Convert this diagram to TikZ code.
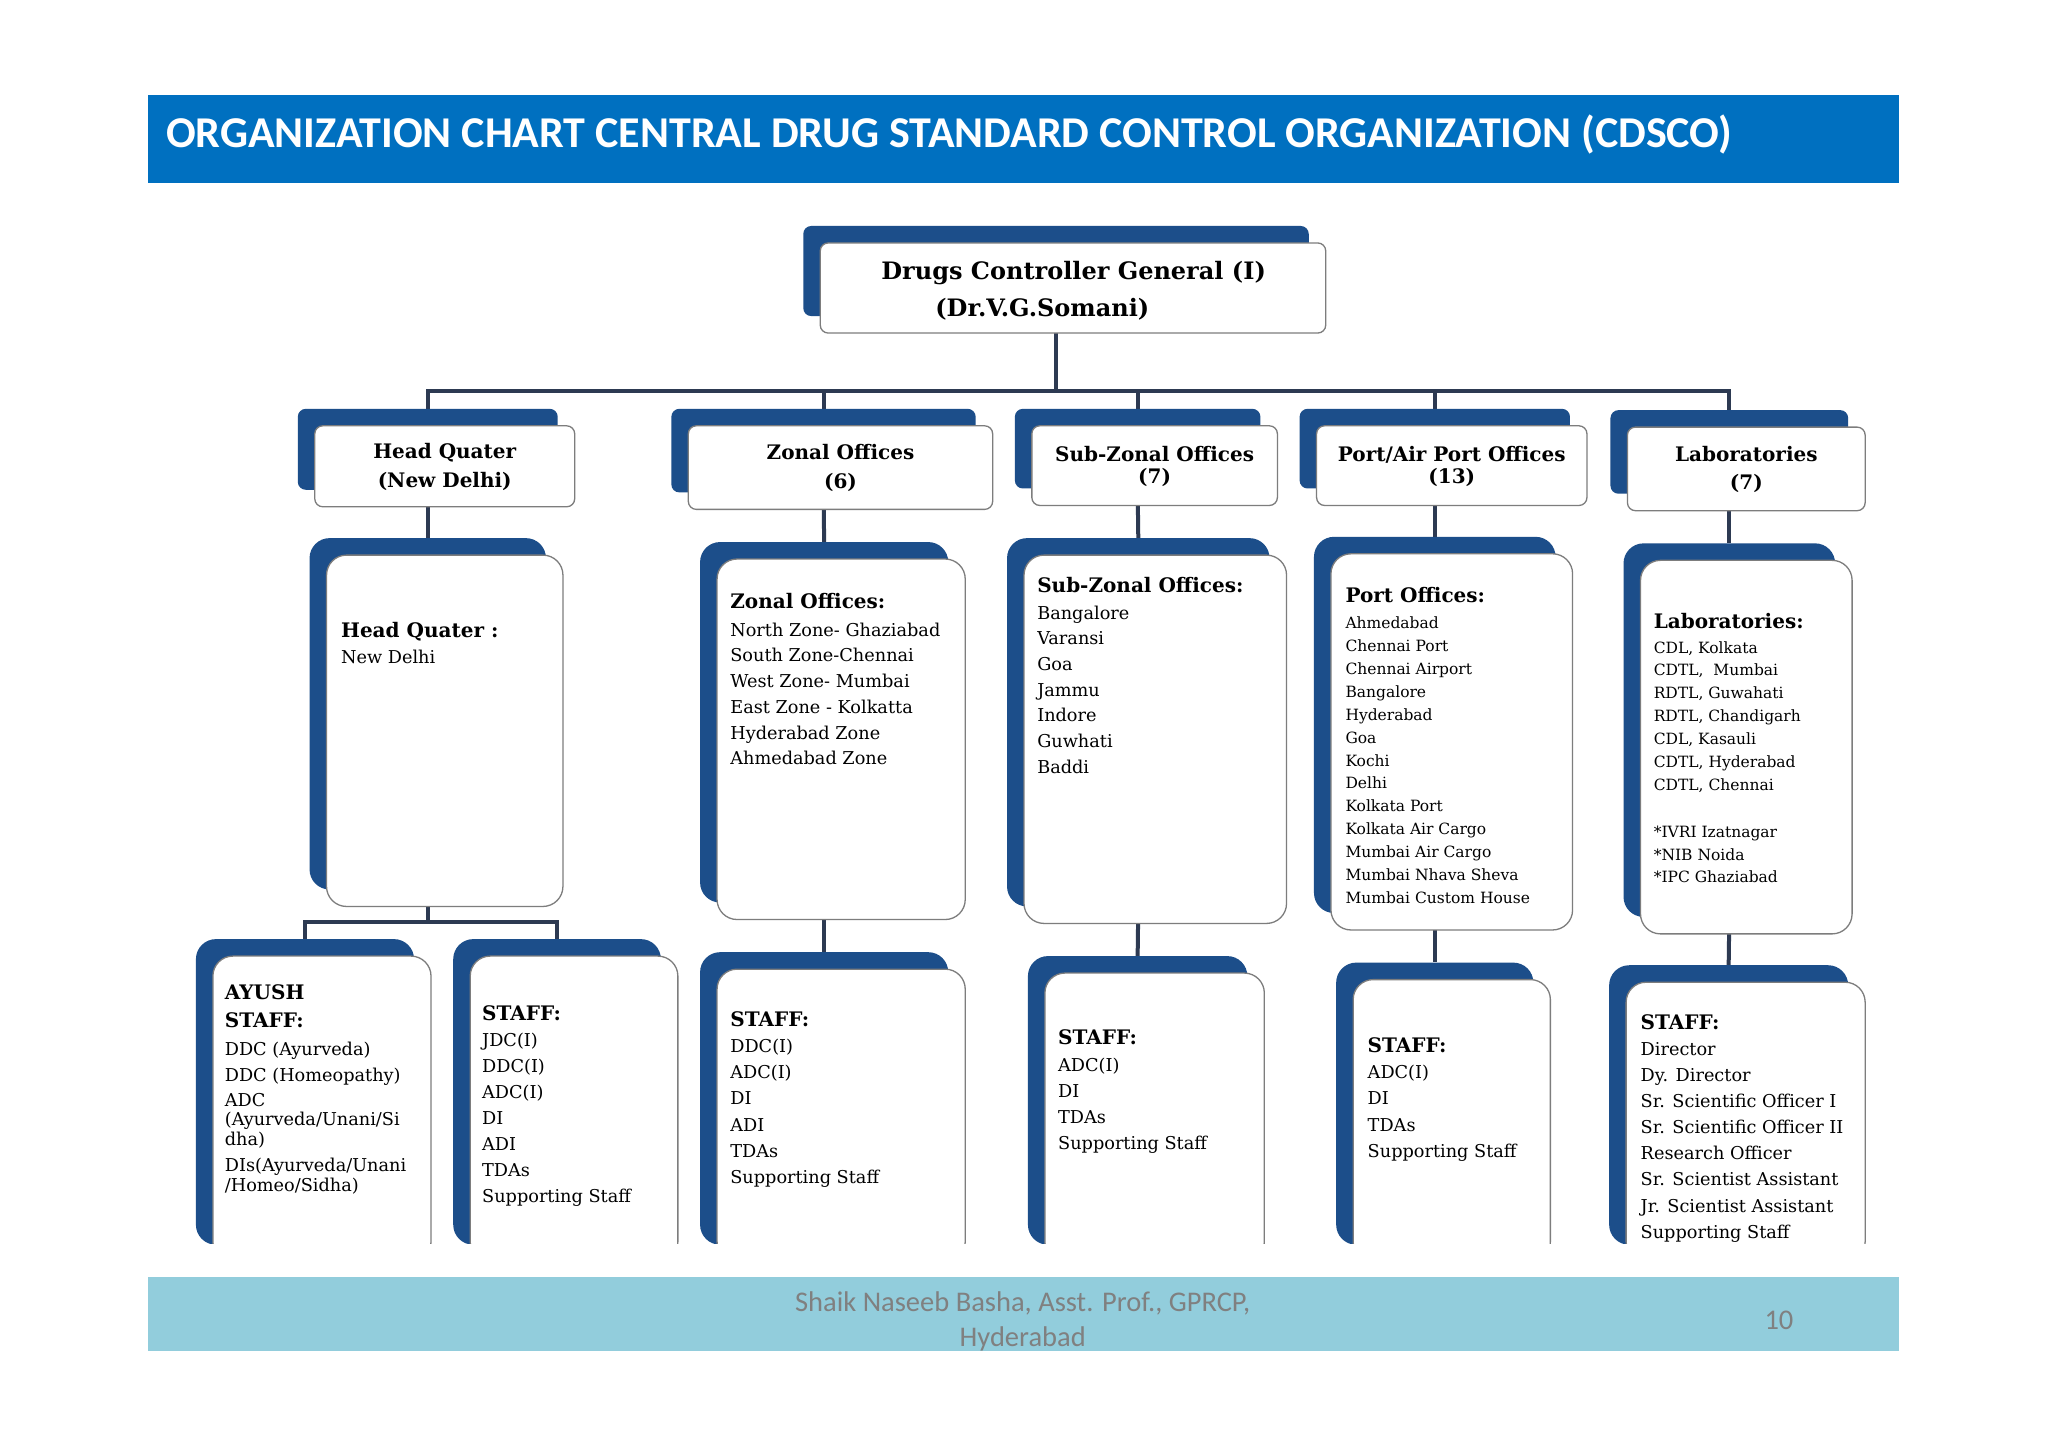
\documentclass[tikz,border=0pt]{standalone}
\usepackage{fontspec}
\setmainfont{DejaVu Serif}
\newfontfamily\titlefont{Carlito}
\usetikzlibrary{fit}
\pgfdeclarelayer{bglayer}
\pgfdeclarelayer{connlayer}
\pgfsetlayers{bglayer,connlayer,main}
\definecolor{titleblue}{RGB}{0,112,192}
\definecolor{footblue}{RGB}{146,205,220}
\definecolor{cardnavy}{RGB}{28,78,138}
\definecolor{connnavy}{RGB}{45,58,82}
\definecolor{bordergray}{RGB}{125,125,125}
\definecolor{foottext}{RGB}{128,128,128}
\tikzset{
  backcard/.style={fill=cardnavy, draw=none, inner sep=0pt},
  frontcard/.style={fill=white, draw=bordergray, line width=1.3pt, inner sep=0pt},
  conn/.style={draw=connnavy, line width=4pt},
  hd/.style={font=\fontsize{20}{24}\selectfont\bfseries, inner sep=0pt, anchor=base west},
  hdc/.style={font=\fontsize{20}{24}\selectfont\bfseries, inner sep=0pt, anchor=base},
  bd/.style={font=\fontsize{17.7}{21}\selectfont, inner sep=0pt, anchor=base west},
  sm/.style={font=\fontsize{15.5}{18}\selectfont, inner sep=0pt, anchor=base west},
}
% #1 name, #2 x1, #3 y1, #4 x2, #5 y2 (front card), #6 radius
\newcommand\orgcard[6]{%
  \node[backcard, rounded corners=#6, fit={({#2-13},{#3-13}) ({#4-13},{#5-13})}] (#1-b) {};
  \node[frontcard, rounded corners=#6, fit={(#2,#3) (#4,#5)}] (#1) {};
}
% #1 prefix, #2 style, #3 x, #4 y0, #5 dy, #6 list
\newcommand\txtlines[6]{%
  \foreach \t [count=\i] in {#6} {\node[#2] (#1-\i) at (#3,{#4+(\i-1)*#5}) {\t};}
}
\begin{document}
\begin{tikzpicture}[x=1.3061pt,y=-1.3061pt]
\useasboundingbox (0,0) rectangle (1568,1108);
\begin{pgfonlayer}{bglayer}
  \fill[white] (0,0) rectangle (1568,1108);
\end{pgfonlayer}
% title bar
\node[fill=titleblue, inner sep=0pt, fit={(113,73) (1454,140)}] (titlebar) {};
\node[anchor=base west, inner sep=0pt, text=white, font=\titlefont\fontsize{44}{52}\selectfont\bfseries] (title) at (127,113)
  {ORGANIZATION CHART CENTRAL DRUG STANDARD CONTROL ORGANIZATION (CDSCO)};
% footer
\node[fill=footblue, inner sep=0pt, fit={(113,978) (1454,1034)}] (footbar) {};
\node[anchor=base, inner sep=0pt, text=foottext, font=\titlefont\fontsize{28.5}{34}\selectfont] (foot1) at (783,1004) {Shaik Naseeb Basha, Asst. Prof., GPRCP,};
\node[anchor=base, inner sep=0pt, text=foottext, font=\titlefont\fontsize{28.5}{34}\selectfont] (foot2) at (783,1031) {Hyderabad};
\node[anchor=base, inner sep=0pt, text=foottext, font=\titlefont\fontsize{28.5}{34}\selectfont] (pageno) at (1362,1018) {10};

% top card
\orgcard{dcg}{628}{186}{1015}{255}{8pt}
\node[anchor=base, inner sep=0pt, font=\fontsize{24}{28}\selectfont\bfseries] (dcg-t1) at (822,214) {Drugs Controller General (I)};
\node[anchor=base west, inner sep=0pt, font=\fontsize{24}{28}\selectfont\bfseries] (dcg-t2) at (716,242) {(Dr.V.G.Somani)};

% level 2
\orgcard{hq}{241}{326}{440}{388}{8pt}
\orgcard{zo}{527}{326}{760}{390}{8pt}
\orgcard{sz}{790}{326}{978}{387}{8pt}
\orgcard{po}{1008}{326}{1215}{387}{8pt}
\orgcard{lab}{1246}{327}{1428}{391}{8pt}
\node[hdc] (hq-t1) at (340.5,351) {Head Quater};
\node[hdc] (hq-t2) at (340.5,373) {(New Delhi)};
\node[hdc] (zo-t1) at (643.5,352) {Zonal Offices};
\node[hdc] (zo-t2) at (643.5,374) {(6)};
\node[hdc] (sz-t1) at (884,353) {Sub-Zonal Offices};
\node[hdc] (sz-t2) at (884,370) {(7)};
\node[hdc] (po-t1) at (1111.5,353) {Port/Air Port Offices};
\node[hdc] (po-t2) at (1111.5,370) {(13)};
\node[hdc] (lab-t1) at (1337,353) {Laboratories};
\node[hdc] (lab-t2) at (1337,375) {(7)};

% level 3
\orgcard{hqd}{250}{425}{431}{694}{20pt}
\orgcard{zod}{549}{428}{739}{704}{20pt}
\orgcard{szd}{784}{425}{985}{707}{20pt}
\orgcard{pod}{1019}{424}{1204}{712}{20pt}
\orgcard{labd}{1256}{429}{1418}{715}{20pt}
\node[hd] (hqd-h) at (261,488) {Head Quater :};
\node[bd] (hqd-1) at (261,508) {New Delhi};
\node[hd] (zod-h) at (559,466) {Zonal Offices:};
\txtlines{zod}{bd}{559}{487}{19.7}{North Zone- Ghaziabad, South Zone-Chennai, West Zone- Mumbai, East Zone - Kolkatta, Hyderabad Zone, Ahmedabad Zone}
\node[hd] (szd-h) at (794,454) {Sub-Zonal Offices:};
\txtlines{szd}{bd}{794}{474}{19.67}{Bangalore, Varansi, Goa, Jammu, Indore, Guwhati, Baddi}
\node[hd] (pod-h) at (1030,461) {Port Offices:};
\txtlines{pod}{sm}{1030}{481}{17.58}{Ahmedabad, Chennai Port, Chennai Airport, Bangalore, Hyderabad, Goa, Kochi, Delhi, Kolkata Port, Kolkata Air Cargo, Mumbai Air Cargo, Mumbai Nhava Sheva, Mumbai Custom House}
\node[hd] (labd-h) at (1266,481) {Laboratories:};
\txtlines{labd}{sm}{1266}{500}{17.5}{{CDL, Kolkata}, {CDTL,\ \ Mumbai}, {RDTL, Guwahati}, {RDTL, Chandigarh}, {CDL, Kasauli}, {CDTL, Hyderabad}, {CDTL, Chennai}}
\txtlines{labdx}{sm}{1266}{641}{17.5}{*IVRI Izatnagar, *NIB Noida, *IPC Ghaziabad}

% level 4 (clipped at the bottom)
\begin{scope}
\clip (0,0) rectangle (1568,952);
\orgcard{ayush}{163}{732}{330}{966}{20pt}
\orgcard{hqs}{360}{732}{519}{966}{20pt}
\orgcard{zos}{549}{742}{739}{966}{20pt}
\orgcard{szs}{800}{745}{968}{966}{20pt}
\orgcard{pos}{1036}{750}{1187}{966}{20pt}
\orgcard{labs}{1245}{752}{1428}{966}{20pt}
\node[hd] (ayush-h1) at (172,765) {AYUSH};
\node[hd] (ayush-h2) at (172,787) {STAFF:};
\node[bd] (ayush-1) at (172,808) {DDC (Ayurveda)};
\node[bd] (ayush-2) at (172,828) {DDC (Homeopathy)};
\node[bd] (ayush-3) at (172,847) {ADC};
\node[bd] (ayush-4) at (172,862) {(Ayurveda/Unani/Si};
\node[bd] (ayush-5) at (172,877) {dha)};
\node[bd] (ayush-6) at (172,897) {DIs(Ayurveda/Unani};
\node[bd] (ayush-7) at (172,912) {/Homeo/Sidha)};
\node[hd] (hqs-h) at (369,781) {STAFF:};
\txtlines{hqs}{bd}{369}{801}{20}{JDC(I), DDC(I), ADC(I), DI, ADI, TDAs, Supporting Staff}
\node[hd] (zos-h) at (559,786) {STAFF:};
\txtlines{zos}{bd}{559}{806}{20}{DDC(I), ADC(I), DI, ADI, TDAs, Supporting Staff}
\node[hd] (szs-h) at (810,800) {STAFF:};
\txtlines{szs}{bd}{810}{820}{20}{ADC(I), DI, TDAs, Supporting Staff}
\node[hd] (pos-h) at (1047,806) {STAFF:};
\txtlines{pos}{bd}{1047}{826}{20}{ADC(I), DI, TDAs, Supporting Staff}
\node[hd] (labs-h) at (1256,788) {STAFF:};
\txtlines{labs}{bd}{1256}{808}{20}{Director, Dy. Director, Sr. Scientific Officer I, Sr. Scientific Officer II, Research Officer, Sr. Scientist Assistant, Jr. Scientist Assistant, Supporting Staff}
\end{scope}

% connectors
\begin{pgfonlayer}{connlayer}
  \coordinate (bus) at (0,299);
  \coordinate (hqbus) at (0,706);
  \draw[conn] (dcg-b.south) -- (dcg-b.south |- bus);
  \draw[conn, line cap=rect] (hq-b.north |- bus) -- (lab-b.north |- bus);
  \foreach \n in {hq,zo,sz,po,lab} {
    \draw[conn] (\n-b.north |- bus) -- (\n-b.north);
    \draw[conn] (\n-b.south) -- (\n d-b.north);
  }
  \foreach \n in {zo,sz,po,lab} {
    \draw[conn] (\n d-b.south) -- (\n s-b.north);
  }
  \draw[conn] (hqd-b.south) -- (hqd-b.south |- hqbus);
  \draw[conn, line cap=rect] (ayush-b.north |- hqbus) -- (hqs-b.north |- hqbus);
  \draw[conn] (ayush-b.north |- hqbus) -- (ayush-b.north);
  \draw[conn] (hqs-b.north |- hqbus) -- (hqs-b.north);
\end{pgfonlayer}
\end{tikzpicture}
\end{document}
